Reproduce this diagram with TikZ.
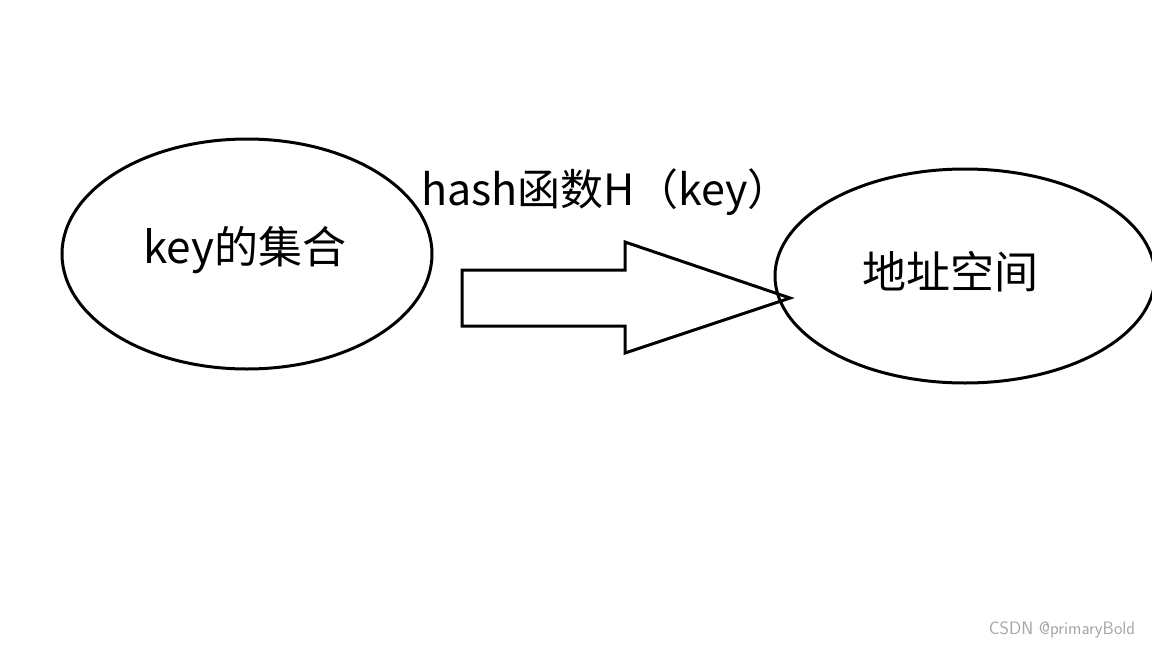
\documentclass[tikz,border=0pt]{standalone}
\usepackage{fontspec}
\setmainfont{Noto Sans CJK SC}
\begin{document}
\begin{tikzpicture}[x=1pt,y=-1pt,
  big/.style={font=\fontsize{44}{50}\selectfont}]
\useasboundingbox (0,0) rectangle (1152,648);
\clip (0,0) rectangle (1152,648);
\fill[white] (0,0) rectangle (1152,648);
\draw[line width=3pt] (247,254) ellipse [x radius=185, y radius=115];
\draw[line width=3pt] (965,276) ellipse [x radius=190, y radius=107];
\node[big] (k) at (245,250) {key的集合};
\node[big] (a) at (950,272) {地址空间};
\draw[line width=3pt,line join=miter] (462,270) -- (625,270) -- (625,242) -- (790,298) -- (625,353) -- (625,326) -- (462,326) -- cycle;
\node[big,font=\fontsize{43}{50}\selectfont] (h) at (606,192) {hash函数H（key）};
\node[font=\fontsize{18}{21}\selectfont\sffamily, text=gray!70] (w) at (1062,630) {CSDN @primaryBold};
\end{tikzpicture}
\end{document}
